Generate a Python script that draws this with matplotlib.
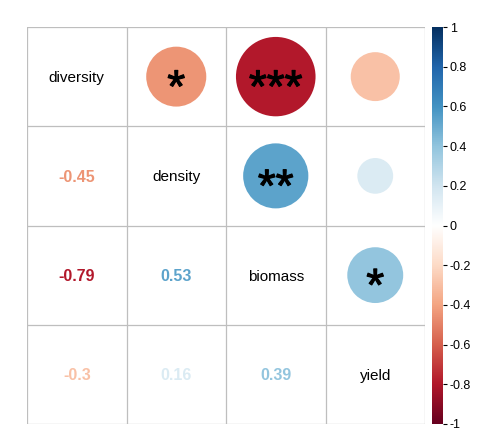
import matplotlib
matplotlib.use("Agg")
import matplotlib.pyplot as plt
import matplotlib.patheffects as pe
import numpy as np
from matplotlib.colors import LinearSegmentedColormap, Normalize
from matplotlib.patches import Circle

plt.rcParams['font.family'] = ['Liberation Sans', 'DejaVu Sans']

# data
names = ['diversity', 'density', 'biomass', 'yield']
pair_rows = [1, 2, 3, 2, 3, 3]
pair_cols = [0, 0, 0, 1, 1, 2]
pair_r = [-0.45, -0.79, -0.30, 0.53, 0.16, 0.39]
pair_stars = ['*', '***', '', '**', '', '*']
cbar_ticks = [-1, -0.8, -0.6, -0.4, -0.2, 0, 0.2, 0.4, 0.6, 0.8, 1]

rdbu = ["#67001F", "#B2182B", "#D6604D", "#F4A582", "#FDDBC7", "#FFFFFF",
        "#D1E5F0", "#92C5DE", "#4393C3", "#2166AC", "#053061"]
cmap = LinearSegmentedColormap.from_list('corr', rdbu, N=200)
norm = Normalize(-1, 1)

W, H = 479, 443
fig = plt.figure(figsize=(W / 100, H / 100), dpi=100)
ax = fig.add_axes([27 / W, (H - 424) / H, 398 / W, 397 / H])
ax.set_xlim(0, 4)
ax.set_ylim(4, 0)
ax.axis('off')

n = len(names)
for k in range(n + 1):
    ax.plot([k, k], [0, n], color='#BEBEBE', lw=0.9, zorder=1)
    ax.plot([0, n], [k, k], color='#BEBEBE', lw=0.9, zorder=1)

for i, nm in enumerate(names):
    ax.text(i + 0.5, i + 0.5, nm, ha='center', va='center_baseline', fontsize=11,
            color='black')

for r, c, v, s in zip(pair_rows, pair_cols, pair_r, pair_stars):
    col = cmap(norm(v))
    # lower triangle: numbers
    ax.text(c + 0.5, r + 0.5, f"{v:g}", ha='center', va='center_baseline', fontsize=11.5,
            fontweight='bold', color=col)
    # upper triangle: circles (area ~ |r|)
    rad = 0.45 * np.sqrt(abs(v))
    ax.add_patch(Circle((r + 0.5, c + 0.5), rad, facecolor=col, edgecolor='none', zorder=2))
    if s:
        ax.text(r + 0.5, c + 0.755, s, ha='center', va='baseline', fontsize=33,
                color='black', zorder=3,
                path_effects=[pe.withStroke(linewidth=0.8, foreground='black')])

cax = fig.add_axes([432 / W, (H - 424) / H, 11 / W, 397 / H])
grad = np.linspace(-1, 1, 200).reshape(-1, 1)
cax.imshow(grad, cmap=cmap, norm=norm, aspect='auto', origin='lower', extent=[0, 1, -1, 1])
cax.set_xticks([])
cax.yaxis.tick_right()
cax.set_yticks(cbar_ticks)
cax.set_yticklabels([f"{t:g}" for t in cbar_ticks], fontsize=9)
cax.tick_params(axis='y', length=3, width=0.8, pad=2)
for sp in cax.spines.values():
    sp.set_visible(False)

fig.savefig('out.png', dpi=100)
